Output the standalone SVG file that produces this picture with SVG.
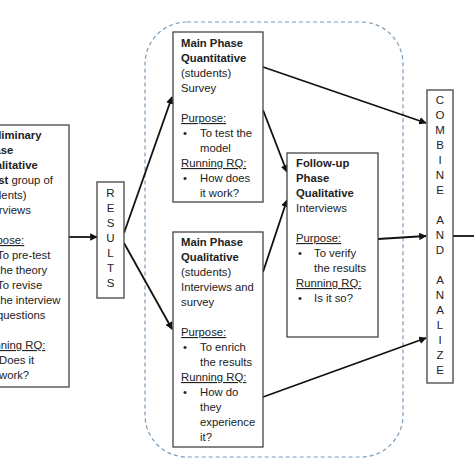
<svg xmlns="http://www.w3.org/2000/svg" width="474" height="474" viewBox="0 0 474 474">
<defs>
<marker id="ah" viewBox="0 0 10 10" refX="9" refY="5" markerWidth="4.2" markerHeight="4.2" orient="auto" markerUnits="strokeWidth">
<path d="M0,0 L10,5 L0,10 z" fill="#111"/>
</marker>
<style>
text{font-family:"Liberation Sans",Arial,sans-serif;font-size:11.3px;fill:#222}
.b{font-weight:bold}
.u{text-decoration:underline}
.box{fill:#fff;stroke:#444;stroke-width:1.3}
.c{stroke:#111;stroke-width:1.8;fill:none;marker-end:url(#ah)}
.l{text-anchor:middle;font-size:11.5px}
</style>
</defs>
<rect width="474" height="474" fill="#fff"/>
<rect id="phase-container" x="145" y="22" width="258" height="435" rx="42" ry="42" fill="none" stroke="#7d9cb8" stroke-width="1.2" stroke-dasharray="4,3"/>

<g id="connectors">
<line class="c" x1="69" y1="237" x2="97" y2="237"/>
<line class="c" x1="124" y1="233" x2="172" y2="97"/>
<line class="c" x1="124" y1="243" x2="172" y2="329"/>
<line class="c" x1="263" y1="67" x2="426" y2="123"/>
<line class="c" x1="263" y1="110" x2="287" y2="172"/>
<line class="c" x1="263" y1="272" x2="287" y2="200"/>
<line class="c" x1="378" y1="239" x2="426" y2="236"/>
<line class="c" x1="263" y1="397" x2="426" y2="338"/>
<line x1="453" y1="236" x2="474" y2="236" stroke="#111" stroke-width="1.8"/>
</g>

<g id="preliminary">
<rect class="box" x="-30" y="125" width="99" height="262"/>
<text class="b" x="-20" y="139">Preliminary</text>
<text class="b" x="-20" y="154">Phase</text>
<text class="b" x="-20" y="169">Qualitative</text>
<text x="-20" y="184">(<tspan class="b">First</tspan> group of</text>
<text x="-20" y="199">students)</text>
<text x="-20" y="214">Interviews</text>
<text class="u" x="-21" y="244">Purpose:</text>
<text x="-18" y="259">•</text>
<text x="-3" y="259">To pre-test</text>
<text x="-3" y="274">the theory</text>
<text x="-18" y="289">•</text>
<text x="-3" y="289">To revise</text>
<text x="-3" y="304">the interview</text>
<text x="-3" y="319">questions</text>
<text class="u" x="-20" y="349">Running RQ:</text>
<text x="-18" y="364">•</text>
<text x="-1" y="364">Does it</text>
<text x="-1" y="379">work?</text>
</g>

<g id="results">
<rect class="box" x="97" y="182" width="27" height="116"/>
<text class="l" x="110.5" y="197">R</text>
<text class="l" x="110.5" y="212">E</text>
<text class="l" x="110.5" y="227">S</text>
<text class="l" x="110.5" y="242">U</text>
<text class="l" x="110.5" y="257">L</text>
<text class="l" x="110.5" y="272">T</text>
<text class="l" x="110.5" y="287">S</text>
</g>

<g id="main-quantitative">
<rect class="box" x="173" y="32" width="90" height="170"/>
<text class="b" x="181" y="47">Main Phase</text>
<text class="b" x="181" y="62">Quantitative</text>
<text x="181" y="77">(students)</text>
<text x="181" y="92">Survey</text>
<text class="u" x="181" y="122">Purpose:</text>
<text x="183" y="137">•</text>
<text x="200" y="137">To test the</text>
<text x="200" y="152">model</text>
<text class="u" x="181" y="167">Running RQ:</text>
<text x="183" y="182">•</text>
<text x="200" y="182">How does</text>
<text x="200" y="197">it work?</text>
</g>

<g id="main-qualitative">
<rect class="box" x="173" y="232" width="90" height="215"/>
<text class="b" x="181" y="246">Main Phase</text>
<text class="b" x="181" y="261">Qualitative</text>
<text x="181" y="276">(students)</text>
<text x="181" y="291">Interviews and</text>
<text x="181" y="306">survey</text>
<text class="u" x="181" y="336">Purpose:</text>
<text x="183" y="351">•</text>
<text x="200" y="351">To enrich</text>
<text x="200" y="366">the results</text>
<text class="u" x="181" y="381">Running RQ:</text>
<text x="183" y="396">•</text>
<text x="200" y="396">How do</text>
<text x="200" y="411">they</text>
<text x="200" y="426">experience</text>
<text x="200" y="441">it?</text>
</g>

<g id="follow-up">
<rect class="box" x="287" y="153" width="91" height="184"/>
<text class="b" x="296" y="167">Follow-up</text>
<text class="b" x="296" y="182">Phase</text>
<text class="b" x="296" y="197">Qualitative</text>
<text x="296" y="212">Interviews</text>
<text class="u" x="296" y="242">Purpose:</text>
<text x="298" y="257">•</text>
<text x="314" y="257">To verify</text>
<text x="314" y="272">the results</text>
<text class="u" x="296" y="287">Running RQ:</text>
<text x="298" y="302">•</text>
<text x="314" y="302">Is it so?</text>
</g>

<g id="combine">
<rect class="box" x="427" y="90" width="26" height="293"/>
<text class="l" x="440" y="104">C</text>
<text class="l" x="440" y="119">O</text>
<text class="l" x="440" y="134">M</text>
<text class="l" x="440" y="149">B</text>
<text class="l" x="440" y="164">I</text>
<text class="l" x="440" y="179">N</text>
<text class="l" x="440" y="194">E</text>
<text class="l" x="440" y="224">A</text>
<text class="l" x="440" y="239">N</text>
<text class="l" x="440" y="254">D</text>
<text class="l" x="440" y="284">A</text>
<text class="l" x="440" y="299">N</text>
<text class="l" x="440" y="314">A</text>
<text class="l" x="440" y="329">L</text>
<text class="l" x="440" y="344">I</text>
<text class="l" x="440" y="359">Z</text>
<text class="l" x="440" y="374">E</text>
</g>
</svg>
